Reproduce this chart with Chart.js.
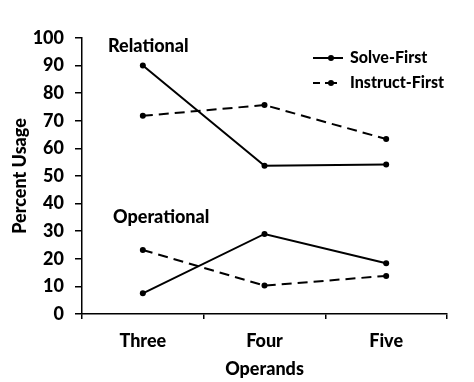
<!DOCTYPE html>
<html><head><meta charset="utf-8">
<script src="https://cdn.jsdelivr.net/npm/chart.js@4.4.1/dist/chart.umd.min.js"></script>
<style>html,body{margin:0;padding:0;background:#fff}</style>
</head><body>
<canvas id="c" width="474" height="382" style="display:block;width:474px;height:382px"></canvas>
<script>
const categories = ['Three', 'Four', 'Five'];
const relSolveFirst = [90, 53.7, 54.2];
const relInstructFirst = [71.8, 75.7, 63.4];
const opSolveFirst = [7.5, 29, 18.4];
const opInstructFirst = [23.2, 10.3, 13.8];
const yTicks = [0, 10, 20, 30, 40, 50, 60, 70, 80, 90, 100];
const legendLabels = ['Solve-First', 'Instruct-First'];
const groupLabels = ['Relational', 'Operational'];

const FONT = 'Lato, "Liberation Sans", sans-serif';
const W = '900';
const DASH = [10, 6];

function ds(data, dashed) {
  return {
    data: data,
    borderColor: '#000',
    backgroundColor: '#000',
    pointBackgroundColor: '#000',
    pointBorderColor: '#000',
    pointRadius: 3,
    pointBorderWidth: 0,
    borderWidth: 2,
    borderDash: dashed ? DASH : [],
    tension: 0,
    fill: false
  };
}

const overlay = {
  id: 'overlay',
  afterDatasetsDraw(chart) {
    const ctx = chart.ctx;
    const ca = chart.chartArea;
    ctx.save();
    ctx.fillStyle = '#000';
    ctx.strokeStyle = '#000';
    ctx.font = W + ' 18px ' + FONT;
    ctx.textAlign = 'left';
    ctx.textBaseline = 'middle';
    ctx.fillText(groupLabels[0], ca.left + 26, ca.top + 8);
    ctx.fillText(groupLabels[1], ca.left + 31, ca.top + 179);
    const x0 = ca.left + 231, x1 = ca.left + 261, dotX = ca.left + 249, tx = ca.left + 268;
    const ys = [ca.top + 20, ca.top + 45];
    ctx.lineWidth = 2;
    ctx.setLineDash([]);
    ctx.beginPath(); ctx.moveTo(x0, ys[0]); ctx.lineTo(x1, ys[0]); ctx.stroke();
    ctx.beginPath(); ctx.arc(dotX, ys[0], 3, 0, Math.PI * 2); ctx.fill();
    ctx.beginPath(); ctx.moveTo(x0, ys[1]); ctx.lineTo(x0 + 7, ys[1]); ctx.stroke();
    ctx.beginPath(); ctx.moveTo(x0 + 12, ys[1]); ctx.lineTo(x0 + 24, ys[1]); ctx.stroke();
    ctx.beginPath(); ctx.arc(dotX, ys[1], 3, 0, Math.PI * 2); ctx.fill();
    ctx.font = W + ' 16px ' + FONT;
    ctx.fillText(legendLabels[0], tx, ys[0]);
    ctx.fillText(legendLabels[1], tx, ys[1]);
    ctx.restore();
  }
};

const tickFont = { family: FONT, size: 18, weight: W };

new Chart(document.getElementById('c'), {
  type: 'line',
  data: {
    labels: categories,
    datasets: [
      ds(relSolveFirst, false),
      ds(relInstructFirst, true),
      ds(opSolveFirst, false),
      ds(opInstructFirst, true)
    ]
  },
  options: {
    responsive: false,
    animation: false,
    devicePixelRatio: 1,
    events: [],
    layout: { padding: { top: 38, right: 27, left: 0, bottom: 0 } },
    plugins: { legend: { display: false }, tooltip: { enabled: false } },
    scales: {
      x: {
        type: 'category',
        offset: true,
        grid: { offset: true, drawOnChartArea: false, drawTicks: true, tickLength: 5, color: '#000', lineWidth: 1.5 },
        border: { display: true, color: '#000', width: 1.5 },
        ticks: { color: '#000', font: tickFont, padding: 11 },
        title: { display: true, text: 'Operands', color: '#000', font: tickFont, padding: { top: 2, bottom: 2 } },
        afterFit(s) { s.height = 68; }
      },
      y: {
        min: 0, max: 100,
        afterBuildTicks(s) { s.ticks = yTicks.map(v => ({ value: v })); },
        grid: { drawOnChartArea: false, drawTicks: true, tickLength: 7, color: '#000', lineWidth: 1.5 },
        border: { display: true, color: '#000', width: 1.5 },
        ticks: { color: '#000', font: tickFont, padding: 11 },
        title: { display: true, text: 'Percent Usage', color: '#000', font: tickFont, padding: { top: 9, bottom: 2 } },
        afterFit(s) { s.width = 82; }
      }
    }
  },
  plugins: [overlay]
});
</script>
</body></html>
